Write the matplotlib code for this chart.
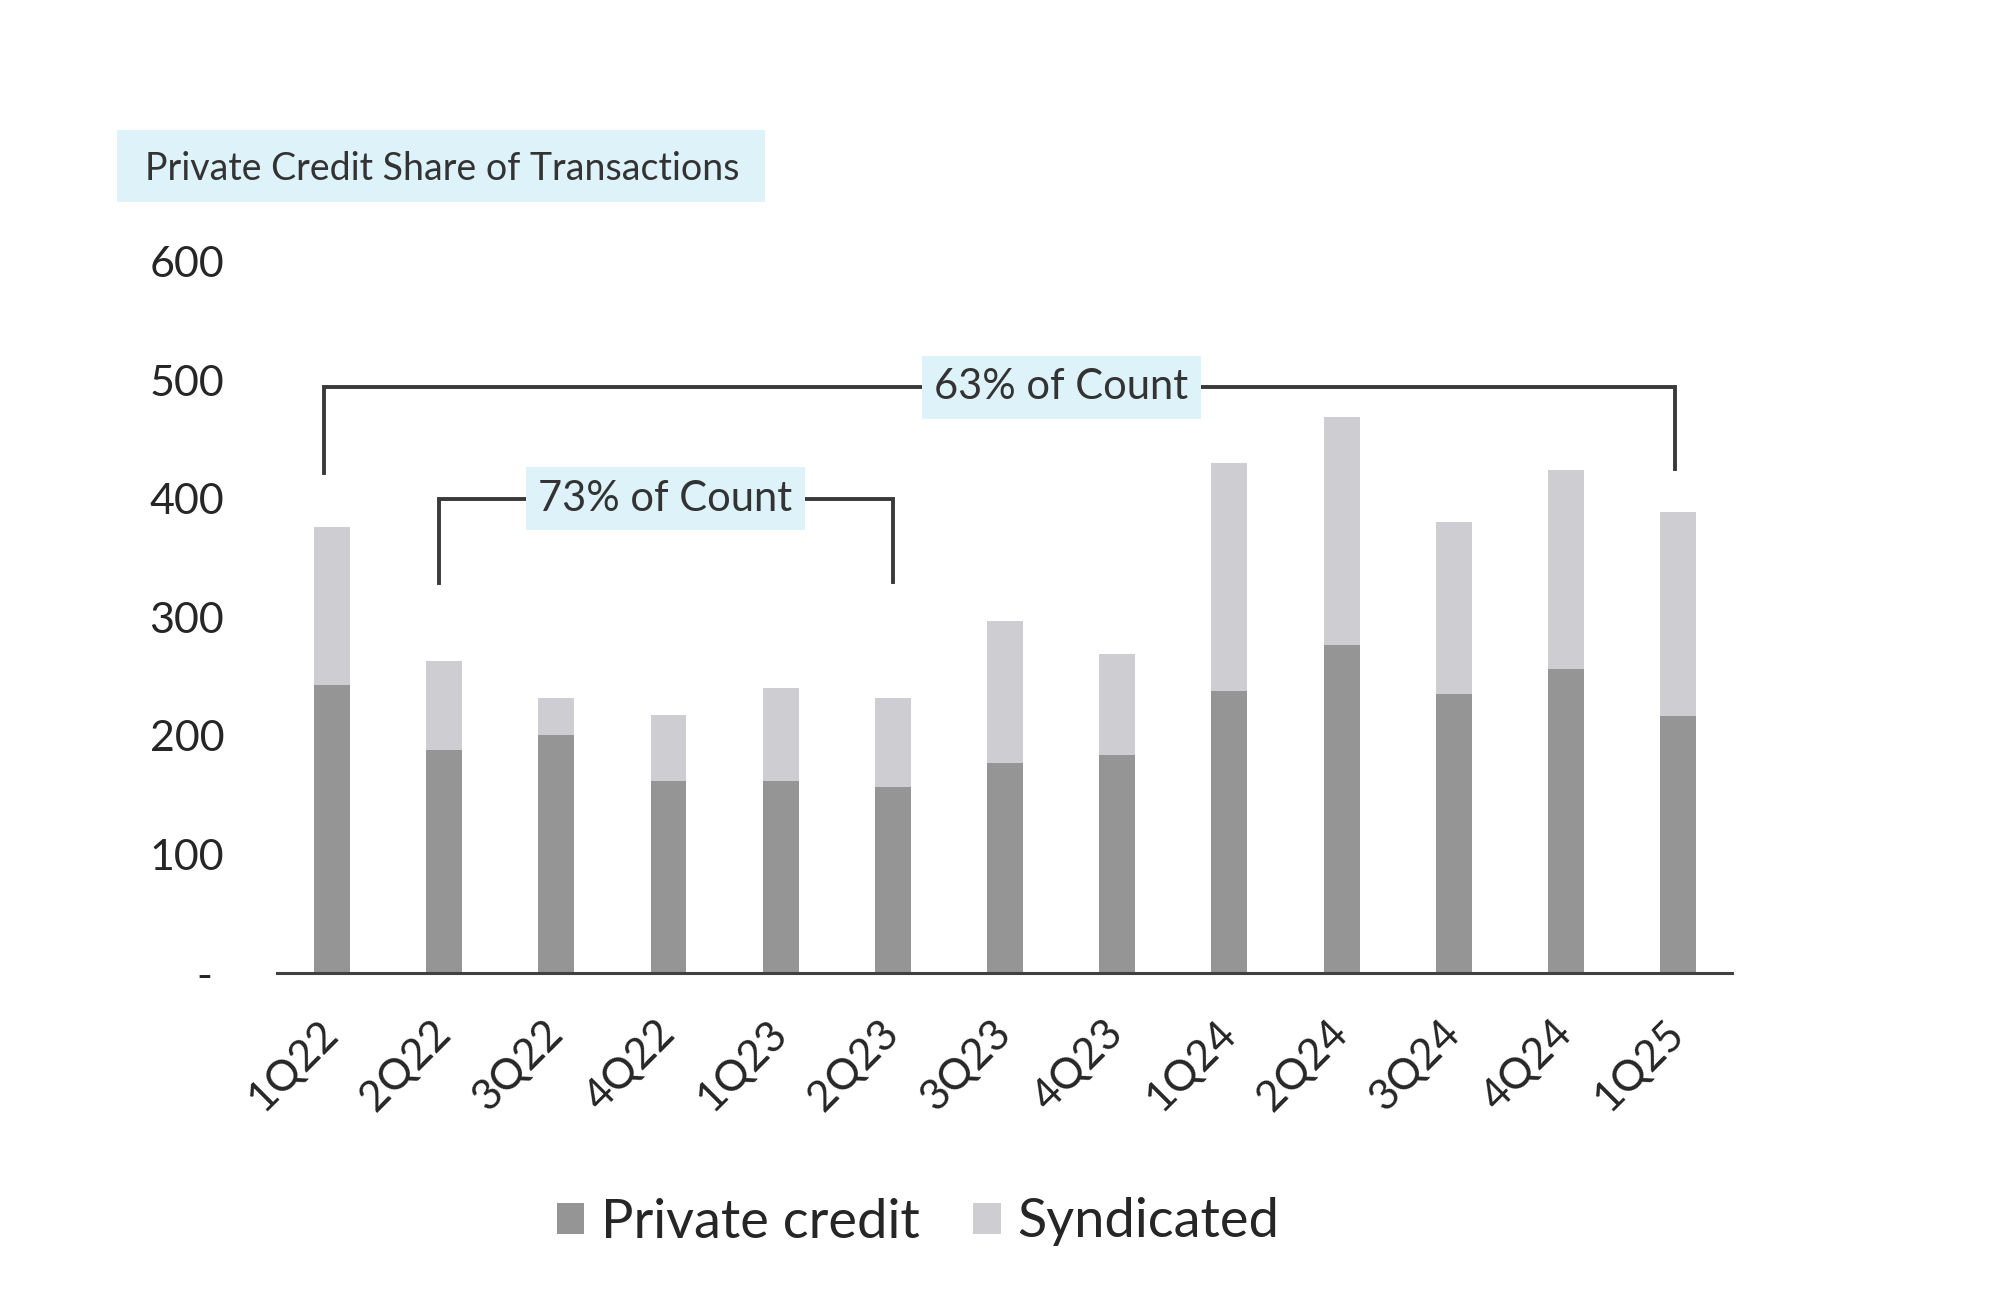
import matplotlib.pyplot as plt
from matplotlib.patches import Patch, Rectangle

plt.rcParams['font.family'] = ['Lato', 'DejaVu Sans']

quarters = ['1Q22', '2Q22', '3Q22', '4Q22', '1Q23', '2Q23', '3Q23',
            '4Q23', '1Q24', '2Q24', '3Q24', '4Q24', '1Q25']
private_credit = [243, 188, 201, 162, 162, 157, 177, 184, 238, 277, 235, 256, 217]
syndicated = [133, 75, 31, 56, 78, 75, 120, 85, 192, 192, 145, 168, 172]

yticks = [0, 100, 200, 300, 400, 500, 600]
ytick_labels = ['- ', '100', '200', '300', '400', '500', '600']

pc_color = '#959595'
syn_color = '#cdcdd2'
box_color = '#ddf3f9'
line_color = '#3a3a3a'
text_color = '#262626'

fig = plt.figure(figsize=(20, 13), dpi=100)
ax = fig.add_axes([0.1385, 0.2515, 0.7275, 0.5473])

x = list(range(len(quarters)))
ax.bar(x, private_credit, width=0.32, color=pc_color, label='Private credit', zorder=2)
ax.bar(x, syndicated, width=0.32, bottom=private_credit, color=syn_color,
       label='Syndicated', zorder=2)

ax.set_xlim(-0.49, 12.48)
ax.set_ylim(0, 600)

for s in ['top', 'right', 'left']:
    ax.spines[s].set_visible(False)
ax.spines['bottom'].set_color('#404040')
ax.spines['bottom'].set_linewidth(2.2)

ax.set_yticks(yticks)
ax.set_yticklabels(ytick_labels)
ax.tick_params(axis='y', length=0, pad=38, labelsize=31, labelcolor=text_color)
ax.set_xticks(x)
ax.set_xticklabels(quarters, rotation=45, ha='right', va='center', rotation_mode='anchor')
ax.tick_params(axis='x', length=0, pad=39, labelsize=31, labelcolor=text_color)

# brackets
ax.plot([-0.07, -0.07, 11.97, 11.97], [422, 494, 494, 425], color=line_color,
        lw=2.8, clip_on=False, zorder=3, solid_joinstyle='miter')
ax.text(6.5, 494, '63% of Count', ha='center', va='center', fontsize=30, color='#333333',
        zorder=4, bbox=dict(boxstyle='square,pad=0.3', facecolor=box_color, edgecolor='none'))

ax.plot([-0.05 + 1, -0.05 + 1, 5.0, 5.0], [329, 400, 400, 330], color=line_color,
        lw=2.8, clip_on=False, zorder=3, solid_joinstyle='miter')
ax.text(2.97, 400, '73% of Count', ha='center', va='center', fontsize=30, color='#333333',
        zorder=4, bbox=dict(boxstyle='square,pad=0.3', facecolor=box_color, edgecolor='none'))

# title box
fig.patches.append(Rectangle((0.0585, 0.8446), 0.324, 0.0554, transform=fig.transFigure,
                             facecolor=box_color, edgecolor='none'))
fig.text(0.0725, 0.8700, 'Private Credit Share of Transactions', ha='left', va='center',
         fontsize=27, color='#333333')

handles = [Patch(facecolor=pc_color, label='Private credit'),
           Patch(facecolor=syn_color, label='Syndicated')]
fig.legend(handles=handles, loc='center', bbox_to_anchor=(0.459, 0.06), ncol=2,
           frameon=False, fontsize=39, handlelength=0.5, handleheight=0.5,
           handletextpad=0.3, columnspacing=1.0, labelcolor=text_color)

plt.savefig('out.png', dpi=100)
